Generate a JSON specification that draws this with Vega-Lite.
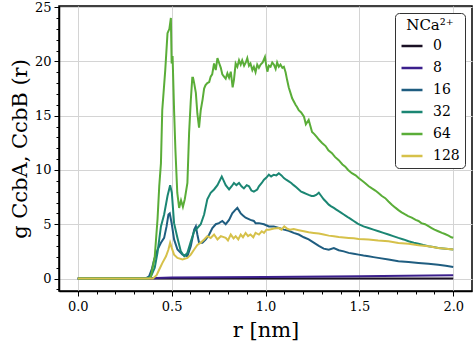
{
  "$schema": "https://vega.github.io/schema/vega-lite/v6.json",
  "width": 413,
  "height": 285,
  "autosize": {"type": "none"},
  "padding": {"left": 59, "top": 6, "right": 2, "bottom": 57},
  "background": "white",
  "config": {
    "view": {"stroke": "black", "strokeWidth": 1.5},
    "font": "DejaVu Serif",
    "axis": {
      "labelFont": "DejaVu Serif",
      "titleFont": "DejaVu Serif",
      "labelFontSize": 13,
      "titleFontSize": 21,
      "titleFontWeight": "normal",
      "labelColor": "black",
      "titleColor": "black",
      "domainColor": "black",
      "domainWidth": 1.5,
      "tickColor": "black",
      "tickWidth": 1,
      "gridColor": "#d4d4d4",
      "gridWidth": 1
    },
    "legend": {
      "labelFont": "DejaVu Serif",
      "titleFont": "DejaVu Serif"
    }
  },
  "data": {
    "values": [
      {"N": "0", "r": 0.0, "g": 0.0},
      {"N": "0", "r": 1.0, "g": 0.0},
      {"N": "0", "r": 2.0, "g": 0.0},

      {"N": "8", "r": 0.0, "g": 0.0},
      {"N": "8", "r": 0.38, "g": 0.0},
      {"N": "8", "r": 0.42, "g": 0.05},
      {"N": "8", "r": 0.5, "g": 0.1},
      {"N": "8", "r": 1.0, "g": 0.15},
      {"N": "8", "r": 1.5, "g": 0.22},
      {"N": "8", "r": 2.0, "g": 0.3},

      {"N": "16", "r": 0.0, "g": 0.0},
      {"N": "16", "r": 0.36, "g": 0.0},
      {"N": "16", "r": 0.38, "g": 0.2},
      {"N": "16", "r": 0.395, "g": 0.9},
      {"N": "16", "r": 0.407, "g": 1.75},
      {"N": "16", "r": 0.425, "g": 2.67},
      {"N": "16", "r": 0.443, "g": 3.3},
      {"N": "16", "r": 0.46, "g": 3.74},
      {"N": "16", "r": 0.473, "g": 4.8},
      {"N": "16", "r": 0.483, "g": 5.9},
      {"N": "16", "r": 0.49, "g": 6.0},
      {"N": "16", "r": 0.501, "g": 5.0},
      {"N": "16", "r": 0.513, "g": 3.6},
      {"N": "16", "r": 0.531, "g": 2.67},
      {"N": "16", "r": 0.558, "g": 2.2},
      {"N": "16", "r": 0.584, "g": 2.05},
      {"N": "16", "r": 0.602, "g": 2.97},
      {"N": "16", "r": 0.62, "g": 4.5},
      {"N": "16", "r": 0.629, "g": 4.8},
      {"N": "16", "r": 0.637, "g": 4.05},
      {"N": "16", "r": 0.646, "g": 3.3},
      {"N": "16", "r": 0.664, "g": 3.3},
      {"N": "16", "r": 0.682, "g": 3.6},
      {"N": "16", "r": 0.7, "g": 4.05},
      {"N": "16", "r": 0.717, "g": 4.65},
      {"N": "16", "r": 0.735, "g": 5.0},
      {"N": "16", "r": 0.752, "g": 5.1},
      {"N": "16", "r": 0.77, "g": 5.3},
      {"N": "16", "r": 0.788, "g": 5.0},
      {"N": "16", "r": 0.806, "g": 5.4},
      {"N": "16", "r": 0.823, "g": 6.0},
      {"N": "16", "r": 0.838, "g": 6.3},
      {"N": "16", "r": 0.85, "g": 6.5},
      {"N": "16", "r": 0.868, "g": 6.0},
      {"N": "16", "r": 0.88, "g": 5.8},
      {"N": "16", "r": 0.894, "g": 5.6},
      {"N": "16", "r": 0.92, "g": 5.4},
      {"N": "16", "r": 0.938, "g": 5.3},
      {"N": "16", "r": 0.947, "g": 5.1},
      {"N": "16", "r": 0.965, "g": 5.1},
      {"N": "16", "r": 0.992, "g": 5.0},
      {"N": "16", "r": 1.018, "g": 4.8},
      {"N": "16", "r": 1.044, "g": 4.8},
      {"N": "16", "r": 1.071, "g": 4.65},
      {"N": "16", "r": 1.098, "g": 4.5},
      {"N": "16", "r": 1.124, "g": 4.4},
      {"N": "16", "r": 1.15, "g": 4.2},
      {"N": "16", "r": 1.177, "g": 4.05},
      {"N": "16", "r": 1.204, "g": 3.8},
      {"N": "16", "r": 1.23, "g": 3.6},
      {"N": "16", "r": 1.257, "g": 3.3},
      {"N": "16", "r": 1.284, "g": 3.0},
      {"N": "16", "r": 1.31, "g": 2.75},
      {"N": "16", "r": 1.337, "g": 2.65},
      {"N": "16", "r": 1.364, "g": 2.8},
      {"N": "16", "r": 1.39, "g": 2.6},
      {"N": "16", "r": 1.417, "g": 2.5},
      {"N": "16", "r": 1.443, "g": 2.36},
      {"N": "16", "r": 1.47, "g": 2.28},
      {"N": "16", "r": 1.496, "g": 2.2},
      {"N": "16", "r": 1.522, "g": 2.12},
      {"N": "16", "r": 1.549, "g": 2.05},
      {"N": "16", "r": 1.575, "g": 1.97},
      {"N": "16", "r": 1.6, "g": 1.9},
      {"N": "16", "r": 1.655, "g": 1.75},
      {"N": "16", "r": 1.708, "g": 1.6},
      {"N": "16", "r": 1.762, "g": 1.53},
      {"N": "16", "r": 1.815, "g": 1.44},
      {"N": "16", "r": 1.868, "g": 1.35},
      {"N": "16", "r": 1.92, "g": 1.26},
      {"N": "16", "r": 1.96, "g": 1.17},
      {"N": "16", "r": 2.0, "g": 1.07},

      {"N": "32", "r": 0.0, "g": 0.0},
      {"N": "32", "r": 0.37, "g": 0.0},
      {"N": "32", "r": 0.39, "g": 0.2},
      {"N": "32", "r": 0.41, "g": 1.0},
      {"N": "32", "r": 0.425, "g": 2.4},
      {"N": "32", "r": 0.443, "g": 4.8},
      {"N": "32", "r": 0.46, "g": 5.9},
      {"N": "32", "r": 0.478, "g": 7.6},
      {"N": "32", "r": 0.492, "g": 8.6},
      {"N": "32", "r": 0.501, "g": 7.9},
      {"N": "32", "r": 0.513, "g": 5.1},
      {"N": "32", "r": 0.531, "g": 3.74},
      {"N": "32", "r": 0.549, "g": 2.5},
      {"N": "32", "r": 0.567, "g": 2.05},
      {"N": "32", "r": 0.584, "g": 2.36},
      {"N": "32", "r": 0.602, "g": 3.4},
      {"N": "32", "r": 0.62, "g": 4.35},
      {"N": "32", "r": 0.637, "g": 4.65},
      {"N": "32", "r": 0.655, "g": 5.0},
      {"N": "32", "r": 0.673, "g": 5.9},
      {"N": "32", "r": 0.69, "g": 7.3},
      {"N": "32", "r": 0.708, "g": 7.9},
      {"N": "32", "r": 0.726, "g": 8.2},
      {"N": "32", "r": 0.744, "g": 8.6},
      {"N": "32", "r": 0.767, "g": 9.4},
      {"N": "32", "r": 0.788, "g": 8.6},
      {"N": "32", "r": 0.806, "g": 8.2},
      {"N": "32", "r": 0.82, "g": 8.5},
      {"N": "32", "r": 0.832, "g": 8.8},
      {"N": "32", "r": 0.845, "g": 8.6},
      {"N": "32", "r": 0.859, "g": 8.8},
      {"N": "32", "r": 0.872, "g": 8.5},
      {"N": "32", "r": 0.885, "g": 8.3},
      {"N": "32", "r": 0.9, "g": 8.6},
      {"N": "32", "r": 0.912, "g": 8.5},
      {"N": "32", "r": 0.925, "g": 8.1},
      {"N": "32", "r": 0.938, "g": 8.0},
      {"N": "32", "r": 0.956, "g": 8.2},
      {"N": "32", "r": 0.965, "g": 8.5},
      {"N": "32", "r": 0.98, "g": 8.8},
      {"N": "32", "r": 0.992, "g": 9.1},
      {"N": "32", "r": 1.005, "g": 9.3},
      {"N": "32", "r": 1.018, "g": 9.56},
      {"N": "32", "r": 1.03, "g": 9.4},
      {"N": "32", "r": 1.044, "g": 9.56},
      {"N": "32", "r": 1.058, "g": 9.5},
      {"N": "32", "r": 1.071, "g": 9.7},
      {"N": "32", "r": 1.085, "g": 9.5},
      {"N": "32", "r": 1.098, "g": 9.25},
      {"N": "32", "r": 1.11, "g": 9.1},
      {"N": "32", "r": 1.124, "g": 8.95},
      {"N": "32", "r": 1.137, "g": 8.8},
      {"N": "32", "r": 1.15, "g": 8.6},
      {"N": "32", "r": 1.164, "g": 8.4},
      {"N": "32", "r": 1.177, "g": 8.2},
      {"N": "32", "r": 1.19, "g": 8.0},
      {"N": "32", "r": 1.204, "g": 7.9},
      {"N": "32", "r": 1.217, "g": 7.8},
      {"N": "32", "r": 1.23, "g": 7.7},
      {"N": "32", "r": 1.245, "g": 7.6},
      {"N": "32", "r": 1.257, "g": 7.6},
      {"N": "32", "r": 1.27, "g": 7.7},
      {"N": "32", "r": 1.284, "g": 7.9},
      {"N": "32", "r": 1.297, "g": 7.6},
      {"N": "32", "r": 1.31, "g": 7.3},
      {"N": "32", "r": 1.324, "g": 7.05},
      {"N": "32", "r": 1.337, "g": 6.8},
      {"N": "32", "r": 1.35, "g": 6.65},
      {"N": "32", "r": 1.364, "g": 6.5},
      {"N": "32", "r": 1.377, "g": 6.35},
      {"N": "32", "r": 1.39, "g": 6.2},
      {"N": "32", "r": 1.404, "g": 6.05},
      {"N": "32", "r": 1.417, "g": 5.9},
      {"N": "32", "r": 1.43, "g": 5.75},
      {"N": "32", "r": 1.443, "g": 5.6},
      {"N": "32", "r": 1.457, "g": 5.45},
      {"N": "32", "r": 1.47, "g": 5.3},
      {"N": "32", "r": 1.483, "g": 5.15},
      {"N": "32", "r": 1.496, "g": 5.0},
      {"N": "32", "r": 1.522, "g": 4.8},
      {"N": "32", "r": 1.549, "g": 4.65},
      {"N": "32", "r": 1.575, "g": 4.5},
      {"N": "32", "r": 1.602, "g": 4.35},
      {"N": "32", "r": 1.628, "g": 4.2},
      {"N": "32", "r": 1.655, "g": 4.05},
      {"N": "32", "r": 1.68, "g": 3.9},
      {"N": "32", "r": 1.708, "g": 3.74},
      {"N": "32", "r": 1.735, "g": 3.6},
      {"N": "32", "r": 1.762, "g": 3.43},
      {"N": "32", "r": 1.79, "g": 3.3},
      {"N": "32", "r": 1.815, "g": 3.2},
      {"N": "32", "r": 1.84, "g": 3.08},
      {"N": "32", "r": 1.868, "g": 2.97},
      {"N": "32", "r": 1.895, "g": 2.9},
      {"N": "32", "r": 1.92, "g": 2.82},
      {"N": "32", "r": 1.96, "g": 2.74},
      {"N": "32", "r": 2.0, "g": 2.67},

      {"N": "64", "r": 0.0, "g": 0.0},
      {"N": "64", "r": 0.38, "g": 0.0},
      {"N": "64", "r": 0.39, "g": 0.2},
      {"N": "64", "r": 0.41, "g": 2.0},
      {"N": "64", "r": 0.425, "g": 5.5},
      {"N": "64", "r": 0.434, "g": 8.5},
      {"N": "64", "r": 0.443, "g": 10.6},
      {"N": "64", "r": 0.45, "g": 15.5},
      {"N": "64", "r": 0.466, "g": 19.2},
      {"N": "64", "r": 0.478, "g": 22.6},
      {"N": "64", "r": 0.488, "g": 23.0},
      {"N": "64", "r": 0.496, "g": 24.0},
      {"N": "64", "r": 0.5, "g": 19.8},
      {"N": "64", "r": 0.505, "g": 20.5},
      {"N": "64", "r": 0.513, "g": 15.5},
      {"N": "64", "r": 0.52, "g": 11.9},
      {"N": "64", "r": 0.53, "g": 7.9},
      {"N": "64", "r": 0.54, "g": 6.5},
      {"N": "64", "r": 0.55, "g": 7.2},
      {"N": "64", "r": 0.56, "g": 6.6},
      {"N": "64", "r": 0.57, "g": 7.3},
      {"N": "64", "r": 0.584, "g": 8.8},
      {"N": "64", "r": 0.593, "g": 13.4},
      {"N": "64", "r": 0.602, "g": 16.4},
      {"N": "64", "r": 0.61, "g": 18.5},
      {"N": "64", "r": 0.614, "g": 18.5},
      {"N": "64", "r": 0.62, "g": 18.0},
      {"N": "64", "r": 0.629, "g": 17.1},
      {"N": "64", "r": 0.637, "g": 15.2},
      {"N": "64", "r": 0.646, "g": 13.9},
      {"N": "64", "r": 0.655, "g": 15.5},
      {"N": "64", "r": 0.665, "g": 16.5},
      {"N": "64", "r": 0.673, "g": 17.5},
      {"N": "64", "r": 0.68, "g": 17.8},
      {"N": "64", "r": 0.69, "g": 18.0},
      {"N": "64", "r": 0.7, "g": 18.1},
      {"N": "64", "r": 0.708, "g": 18.6},
      {"N": "64", "r": 0.716, "g": 18.8},
      {"N": "64", "r": 0.726, "g": 19.8},
      {"N": "64", "r": 0.735, "g": 19.2},
      {"N": "64", "r": 0.744, "g": 20.3},
      {"N": "64", "r": 0.752, "g": 19.9},
      {"N": "64", "r": 0.762, "g": 19.4},
      {"N": "64", "r": 0.77, "g": 18.8},
      {"N": "64", "r": 0.779, "g": 18.6},
      {"N": "64", "r": 0.788, "g": 18.4},
      {"N": "64", "r": 0.797, "g": 18.9},
      {"N": "64", "r": 0.806, "g": 18.5},
      {"N": "64", "r": 0.815, "g": 19.05},
      {"N": "64", "r": 0.825, "g": 17.6},
      {"N": "64", "r": 0.832, "g": 18.3},
      {"N": "64", "r": 0.841, "g": 19.8},
      {"N": "64", "r": 0.85, "g": 19.5},
      {"N": "64", "r": 0.859, "g": 20.1},
      {"N": "64", "r": 0.868, "g": 19.7},
      {"N": "64", "r": 0.876, "g": 20.1},
      {"N": "64", "r": 0.886, "g": 19.6},
      {"N": "64", "r": 0.895, "g": 19.9},
      {"N": "64", "r": 0.903, "g": 20.3},
      {"N": "64", "r": 0.912, "g": 19.6},
      {"N": "64", "r": 0.92, "g": 19.8},
      {"N": "64", "r": 0.93, "g": 19.2},
      {"N": "64", "r": 0.938, "g": 19.5},
      {"N": "64", "r": 0.947, "g": 19.0},
      {"N": "64", "r": 0.956, "g": 19.7},
      {"N": "64", "r": 0.965, "g": 19.4},
      {"N": "64", "r": 0.974, "g": 19.7},
      {"N": "64", "r": 0.985, "g": 19.9},
      {"N": "64", "r": 0.997, "g": 20.4},
      {"N": "64", "r": 1.005, "g": 19.5},
      {"N": "64", "r": 1.01, "g": 19.05},
      {"N": "64", "r": 1.018, "g": 19.6},
      {"N": "64", "r": 1.027, "g": 19.5},
      {"N": "64", "r": 1.036, "g": 19.9},
      {"N": "64", "r": 1.045, "g": 19.7},
      {"N": "64", "r": 1.054, "g": 19.3},
      {"N": "64", "r": 1.062, "g": 19.9},
      {"N": "64", "r": 1.071, "g": 19.5},
      {"N": "64", "r": 1.08, "g": 19.7},
      {"N": "64", "r": 1.09, "g": 19.4},
      {"N": "64", "r": 1.098, "g": 19.5},
      {"N": "64", "r": 1.107, "g": 19.0},
      {"N": "64", "r": 1.115, "g": 18.3},
      {"N": "64", "r": 1.124, "g": 17.6},
      {"N": "64", "r": 1.133, "g": 17.1},
      {"N": "64", "r": 1.142, "g": 16.6},
      {"N": "64", "r": 1.151, "g": 16.3},
      {"N": "64", "r": 1.16, "g": 16.0},
      {"N": "64", "r": 1.168, "g": 15.8},
      {"N": "64", "r": 1.177, "g": 15.5},
      {"N": "64", "r": 1.19, "g": 15.3},
      {"N": "64", "r": 1.205, "g": 14.9},
      {"N": "64", "r": 1.215, "g": 14.2},
      {"N": "64", "r": 1.23, "g": 14.6},
      {"N": "64", "r": 1.248, "g": 13.5},
      {"N": "64", "r": 1.26, "g": 13.3},
      {"N": "64", "r": 1.275, "g": 13.0},
      {"N": "64", "r": 1.284, "g": 12.8},
      {"N": "64", "r": 1.3, "g": 12.5},
      {"N": "64", "r": 1.32, "g": 12.2},
      {"N": "64", "r": 1.335, "g": 11.8},
      {"N": "64", "r": 1.354, "g": 11.55},
      {"N": "64", "r": 1.37, "g": 11.2},
      {"N": "64", "r": 1.39, "g": 10.9},
      {"N": "64", "r": 1.41, "g": 10.5},
      {"N": "64", "r": 1.425, "g": 10.3},
      {"N": "64", "r": 1.44, "g": 10.0},
      {"N": "64", "r": 1.46, "g": 9.7},
      {"N": "64", "r": 1.48, "g": 9.5},
      {"N": "64", "r": 1.496, "g": 9.25},
      {"N": "64", "r": 1.515, "g": 9.0},
      {"N": "64", "r": 1.53, "g": 8.8},
      {"N": "64", "r": 1.55, "g": 8.5},
      {"N": "64", "r": 1.567, "g": 8.3},
      {"N": "64", "r": 1.585, "g": 8.1},
      {"N": "64", "r": 1.6, "g": 7.9},
      {"N": "64", "r": 1.62, "g": 7.6},
      {"N": "64", "r": 1.638, "g": 7.4},
      {"N": "64", "r": 1.655, "g": 7.1},
      {"N": "64", "r": 1.673, "g": 6.8},
      {"N": "64", "r": 1.69, "g": 6.55},
      {"N": "64", "r": 1.708, "g": 6.3},
      {"N": "64", "r": 1.725, "g": 6.1},
      {"N": "64", "r": 1.744, "g": 5.9},
      {"N": "64", "r": 1.76, "g": 5.75},
      {"N": "64", "r": 1.779, "g": 5.6},
      {"N": "64", "r": 1.8, "g": 5.4},
      {"N": "64", "r": 1.815, "g": 5.3},
      {"N": "64", "r": 1.83, "g": 5.1},
      {"N": "64", "r": 1.85, "g": 5.0},
      {"N": "64", "r": 1.87, "g": 4.8},
      {"N": "64", "r": 1.885, "g": 4.65},
      {"N": "64", "r": 1.9, "g": 4.5},
      {"N": "64", "r": 1.92, "g": 4.35},
      {"N": "64", "r": 1.94, "g": 4.2},
      {"N": "64", "r": 1.956, "g": 4.1},
      {"N": "64", "r": 1.975, "g": 3.95},
      {"N": "64", "r": 1.99, "g": 3.8},
      {"N": "64", "r": 2.0, "g": 3.75},

      {"N": "128", "r": 0.0, "g": 0.0},
      {"N": "128", "r": 0.4, "g": 0.0},
      {"N": "128", "r": 0.42, "g": 0.3},
      {"N": "128", "r": 0.434, "g": 0.83},
      {"N": "128", "r": 0.451, "g": 1.44},
      {"N": "128", "r": 0.47, "g": 2.05},
      {"N": "128", "r": 0.483, "g": 2.67},
      {"N": "128", "r": 0.492, "g": 3.3},
      {"N": "128", "r": 0.501, "g": 2.8},
      {"N": "128", "r": 0.513, "g": 2.2},
      {"N": "128", "r": 0.531, "g": 1.9},
      {"N": "128", "r": 0.558, "g": 1.75},
      {"N": "128", "r": 0.584, "g": 1.9},
      {"N": "128", "r": 0.602, "g": 2.2},
      {"N": "128", "r": 0.62, "g": 2.67},
      {"N": "128", "r": 0.637, "g": 3.1},
      {"N": "128", "r": 0.655, "g": 3.3},
      {"N": "128", "r": 0.673, "g": 3.6},
      {"N": "128", "r": 0.69, "g": 3.9},
      {"N": "128", "r": 0.708, "g": 3.74},
      {"N": "128", "r": 0.726, "g": 4.05},
      {"N": "128", "r": 0.744, "g": 3.6},
      {"N": "128", "r": 0.762, "g": 3.9},
      {"N": "128", "r": 0.788, "g": 3.74},
      {"N": "128", "r": 0.8, "g": 3.5},
      {"N": "128", "r": 0.815, "g": 4.05},
      {"N": "128", "r": 0.83, "g": 3.7},
      {"N": "128", "r": 0.841, "g": 3.9},
      {"N": "128", "r": 0.855, "g": 3.6},
      {"N": "128", "r": 0.868, "g": 4.05},
      {"N": "128", "r": 0.88, "g": 3.8},
      {"N": "128", "r": 0.894, "g": 4.2},
      {"N": "128", "r": 0.907, "g": 3.9},
      {"N": "128", "r": 0.92, "g": 4.05},
      {"N": "128", "r": 0.935, "g": 3.8},
      {"N": "128", "r": 0.947, "g": 4.2},
      {"N": "128", "r": 0.965, "g": 4.05},
      {"N": "128", "r": 0.98, "g": 4.35},
      {"N": "128", "r": 0.992, "g": 4.2},
      {"N": "128", "r": 1.005, "g": 4.5},
      {"N": "128", "r": 1.018, "g": 4.5},
      {"N": "128", "r": 1.045, "g": 4.6},
      {"N": "128", "r": 1.071, "g": 4.65},
      {"N": "128", "r": 1.085, "g": 4.5},
      {"N": "128", "r": 1.1, "g": 4.8},
      {"N": "128", "r": 1.115, "g": 4.6},
      {"N": "128", "r": 1.13, "g": 4.5},
      {"N": "128", "r": 1.15, "g": 4.55},
      {"N": "128", "r": 1.177, "g": 4.45},
      {"N": "128", "r": 1.204, "g": 4.35},
      {"N": "128", "r": 1.23, "g": 4.26},
      {"N": "128", "r": 1.257, "g": 4.2},
      {"N": "128", "r": 1.284, "g": 4.14},
      {"N": "128", "r": 1.31, "g": 4.05},
      {"N": "128", "r": 1.337, "g": 3.95},
      {"N": "128", "r": 1.364, "g": 3.9},
      {"N": "128", "r": 1.39, "g": 3.83},
      {"N": "128", "r": 1.417, "g": 3.78},
      {"N": "128", "r": 1.443, "g": 3.74},
      {"N": "128", "r": 1.47, "g": 3.7},
      {"N": "128", "r": 1.496, "g": 3.65},
      {"N": "128", "r": 1.549, "g": 3.6},
      {"N": "128", "r": 1.6, "g": 3.5},
      {"N": "128", "r": 1.655, "g": 3.43},
      {"N": "128", "r": 1.708, "g": 3.28},
      {"N": "128", "r": 1.762, "g": 3.2},
      {"N": "128", "r": 1.815, "g": 3.06},
      {"N": "128", "r": 1.868, "g": 2.97},
      {"N": "128", "r": 1.92, "g": 2.82},
      {"N": "128", "r": 1.96, "g": 2.75},
      {"N": "128", "r": 2.0, "g": 2.67}
    ]
  },
  "mark": {"type": "line", "strokeWidth": 2, "interpolate": "linear"},
  "encoding": {
    "x": {
      "field": "r",
      "type": "quantitative",
      "scale": {"domain": [-0.1, 2.1], "nice": false, "zero": false},
      "axis": {
        "title": "r [nm]",
        "values": [0, 0.1, 0.2, 0.3, 0.4, 0.5, 0.6, 0.7, 0.8, 0.9, 1, 1.1, 1.2, 1.3, 1.4, 1.5, 1.6, 1.7, 1.8, 1.9, 2],
        "labelExpr": "abs(datum.value * 2 - round(datum.value * 2)) < 0.001 ? format(datum.value, '.1f') : ''",
        "tickSize": {"condition": {"test": "abs(datum.value * 2 - round(datum.value * 2)) < 0.001", "value": 5}, "value": 3},
        "gridOpacity": {"condition": {"test": "abs(datum.value * 2 - round(datum.value * 2)) < 0.001", "value": 1}, "value": 0},
        "labelPadding": 4,
        "titlePadding": 6,
        "labelFlush": false
      }
    },
    "y": {
      "field": "g",
      "type": "quantitative",
      "scale": {"domain": [-1.15, 25.1], "nice": false, "zero": false},
      "axis": {
        "title": "g CcbA, CcbB (r)",
        "values": [-1, 0, 1, 2, 3, 4, 5, 6, 7, 8, 9, 10, 11, 12, 13, 14, 15, 16, 17, 18, 19, 20, 21, 22, 23, 24, 25],
        "labelExpr": "datum.value % 5 == 0 ? format(datum.value, 'd') : ''",
        "tickSize": {"condition": {"test": "datum.value % 5 == 0", "value": 5}, "value": 3},
        "gridOpacity": {"condition": {"test": "datum.value % 5 == 0", "value": 1}, "value": 0},
        "labelPadding": 3,
        "titlePadding": 4,
        "labelFlush": false
      }
    },
    "color": {
      "field": "N",
      "type": "nominal",
      "scale": {
        "domain": ["0", "8", "16", "32", "64", "128"],
        "range": ["#1a1024", "#3b1f8c", "#1f5d80", "#1b8673", "#5aad38", "#d6c14a"]
      },
      "legend": {
        "title": "NCa²⁺",
        "orient": "top-right",
        "offset": 7,
        "padding": 5,
        "fillColor": "white",
        "strokeColor": "#333333",
        "cornerRadius": 4,
        "symbolType": "stroke",
        "symbolSize": 440,
        "symbolStrokeWidth": 2.5,
        "labelFont": "DejaVu Serif",
        "titleFont": "DejaVu Serif",
        "labelFontSize": 14,
        "labelOffset": 9,
        "labelColor": "black",
        "titleFontSize": 15,
        "titleFontWeight": "normal",
        "titleColor": "black",
        "titleAnchor": "middle",
        "titlePadding": 1,
        "rowPadding": 3
      }
    }
  }
}
